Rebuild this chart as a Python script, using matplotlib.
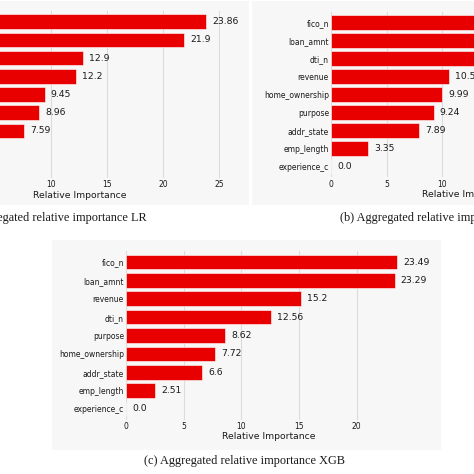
import matplotlib
matplotlib.use("Agg")
import matplotlib.pyplot as plt
from matplotlib.patches import Rectangle

# (a) LR - only the right part of the panel is visible
lr_values = [23.86, 21.9, 12.9, 12.2, 9.45, 8.96, 7.59]

# (b) and (c) share the feature names, order differs
feat_b = ["fico_n", "loan_amnt", "dti_n", "revenue", "home_ownership",
          "purpose", "addr_state", "emp_length", "experience_c"]
values_b = [23.5, 21.2, 14.26, 10.57, 9.99, 9.24, 7.89, 3.35, 0.0]  # first three cut off, estimated

feat_c = ["fico_n", "loan_amnt", "revenue", "dti_n", "purpose",
          "home_ownership", "addr_state", "emp_length", "experience_c"]
values_c = [23.49, 23.29, 15.2, 12.56, 8.62, 7.72, 6.6, 2.51, 0.0]

captions = ["(a) Aggregated relative importance LR",
            "(b) Aggregated relative importance RF",
            "(c) Aggregated relative importance XGB"]

W = H = 474
BAR = "#e80000"
PANEL = "#f7f7f7"

fig = plt.figure(figsize=(4.74, 4.74), dpi=100)


def box(l, t, r, b):  # pixel box -> figure coords
    return [l / W, 1 - b / H, (r - l) / W, (b - t) / H]


# grey panel backgrounds (behind the axes)
for l, t, r, b in [(-5, 1, 249, 205), (252, 1, 480, 205), (52, 240, 441, 450)]:
    fig.patches.append(Rectangle((l / W, 1 - b / H), (r - l) / W, (b - t) / H,
                                 transform=fig.transFigure, facecolor=PANEL,
                                 edgecolor="none", zorder=-5))


def bar_panel(rect, names, vals, xmax, nrows=9):
    ax = fig.add_axes(rect)
    ax.set_zorder(1)
    ax.set_facecolor("none")
    ypos = list(range(len(vals)))
    ax.barh(ypos, vals, height=0.8, color=BAR, edgecolor="white",
            linewidth=0.4, zorder=2)
    for y, v in zip(ypos, vals):
        ax.annotate(f"{v}", (v, y), xytext=(4.3, 0), textcoords="offset points",
                    va="center", ha="left", fontsize=6.7, color="#1a1a1a")
    ax.set_ylim(nrows - 1 + 0.6, -0.6)
    ax.set_yticks(range(len(names)))
    ax.set_yticklabels(names)
    ax.set_xticks(range(0, 30, 5))
    ax.set_xlim(0, xmax)
    ax.tick_params(length=0, labelsize=5.5, labelcolor="#1a1a1a", pad=1.5)
    ax.xaxis.grid(True, color="#dcdcdc", linewidth=0.8, zorder=0)
    ax.set_axisbelow(True)
    for s in ax.spines.values():
        s.set_visible(False)
    ax.set_xlabel("Relative Importance", fontsize=6.7, color="#1a1a1a", labelpad=1)
    return ax


# (a) axes: 0 at x=-61, 11.2 px per unit
xa = 23.86 * 1.05
bar_panel(box(-61, 10.8, -61 + xa * 11.2, 178.2), [""] * 7, lr_values, xa)

# (b) axes: 0 at x=331, 11.13 px per unit
xb = max(values_b) * 1.05
bar_panel(box(331, 11.9, 331 + xb * 11.13, 177.5), feat_b, values_b, xb)

# (c) axes
xc = max(values_c) * 1.05
bar_panel(box(126, 251, 126 + xc * 11.54, 420), feat_c, values_c, xc)

cap = dict(family="Liberation Serif", fontsize=8.8, color="#1a1a1a", va="center")
fig.text(147 / W, 1 - 218 / H, captions[0], ha="right", **cap)
fig.text(340 / W, 1 - 218 / H, captions[1], ha="left", **cap)
fig.text(244 / W, 1 - 461 / H, captions[2], ha="center", **cap)

fig.savefig("out.png", dpi=100)
